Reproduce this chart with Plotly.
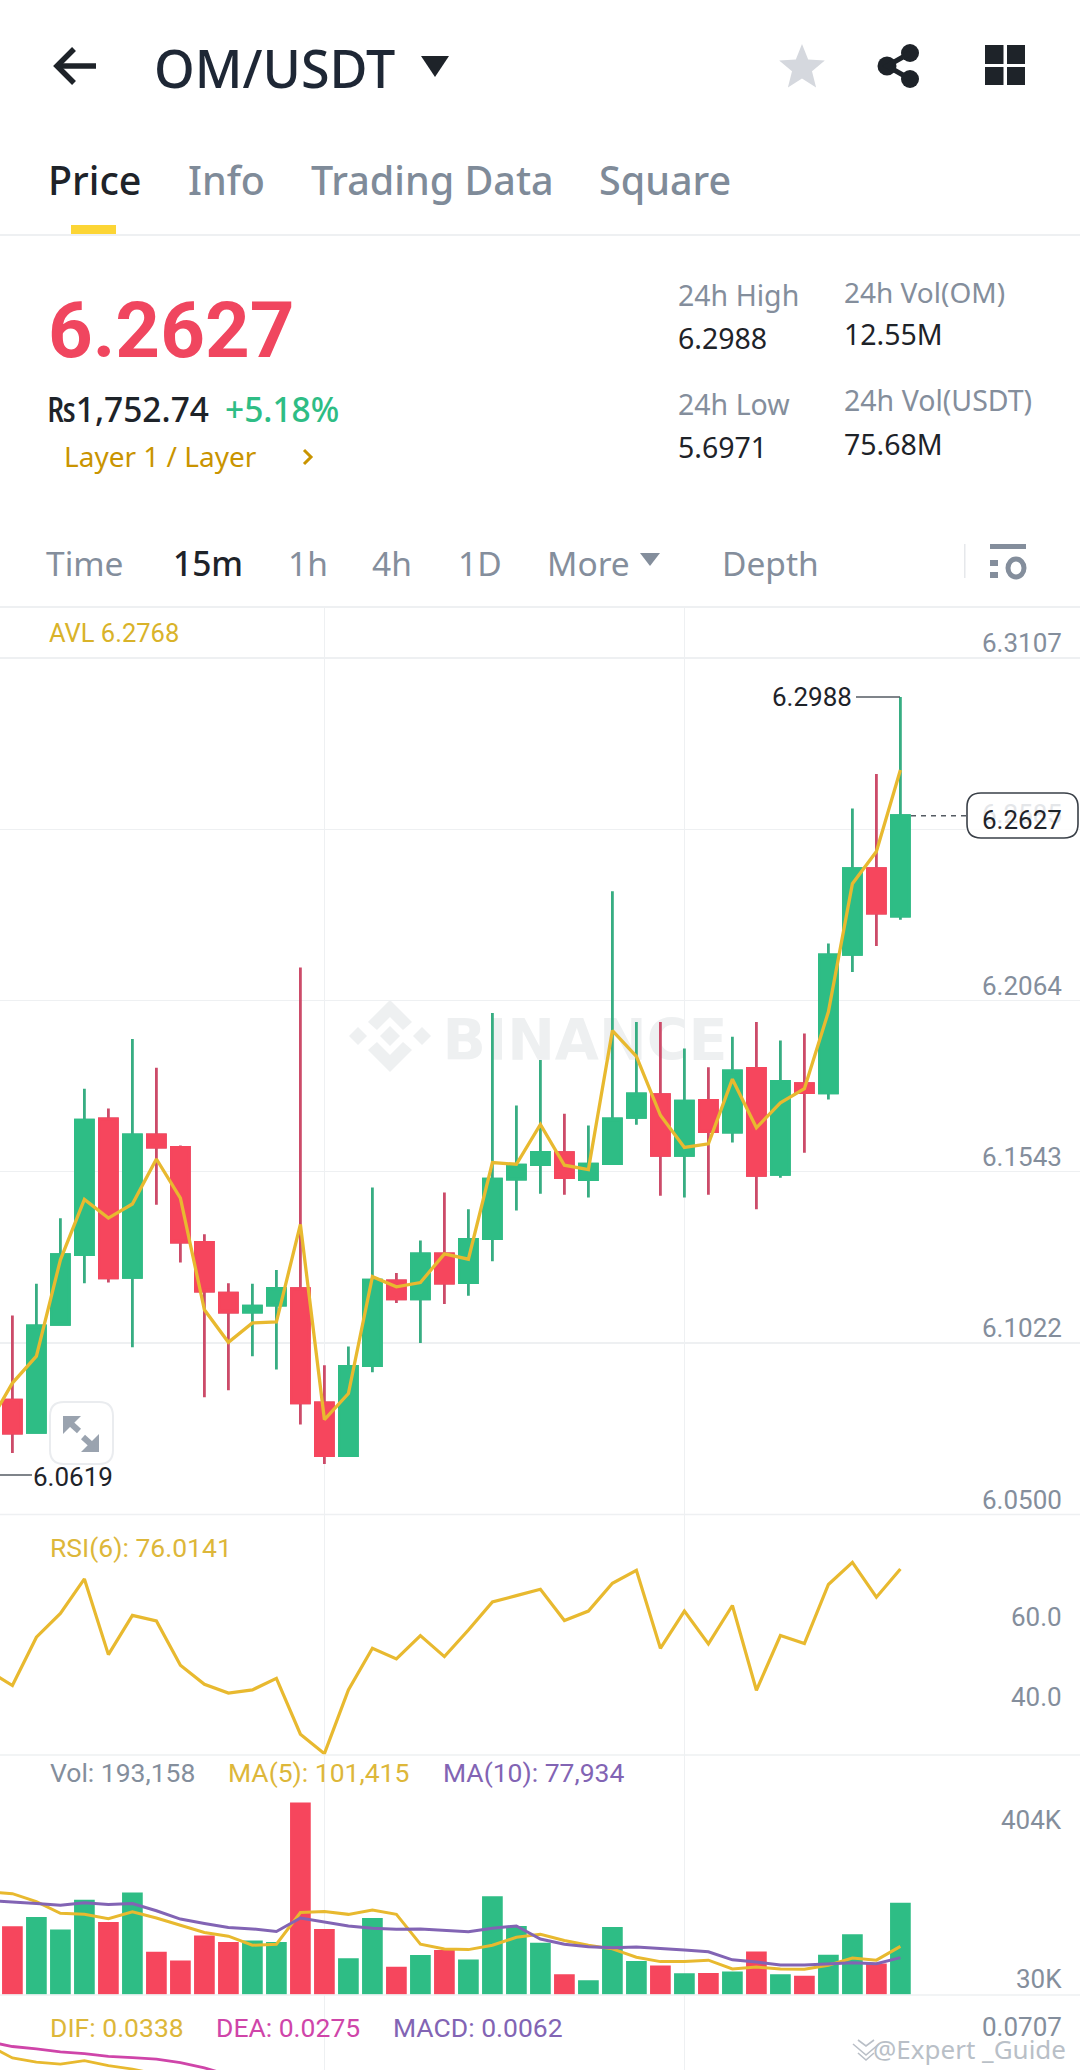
import math
import plotly.graph_objects as go

W, H = 1080, 2070

# ---------- data ----------
candle_idx = list(range(38))
opens = [6.0848,6.0750,6.1079,6.1291,6.1704,6.1222,6.1655,6.1617,6.1328,6.1174,6.1116,6.1137,6.1187,6.0840,6.0679,6.0953,6.1211,6.1156,6.1293,6.1206,
         6.1340,6.1521,6.1565,6.1601,6.1519,6.1568,6.1709,6.1778,6.1593,6.1760,6.1664,6.1858,6.1535,6.1811,6.1783,6.2205,6.2466,6.2321]
highs = [6.1106,6.1202,6.1402,6.1796,6.1736,6.1947,6.1860,6.1623,6.1353,6.1204,6.1202,6.1244,6.2165,6.0954,6.1011,6.1495,6.1235,6.1334,6.1480,6.1429,
         6.2026,6.1745,6.1883,6.1720,6.1684,6.2397,6.1999,6.1999,6.1918,6.1861,6.1954,6.1999,6.1943,6.1964,6.2238,6.2649,6.2754,6.2988]
lows = [6.0687,6.0750,6.1079,6.1204,6.1206,6.1009,6.1443,6.1267,6.0857,6.0878,6.0982,6.0941,6.0774,6.0654,6.0679,6.0933,6.1144,6.1022,6.1141,6.1166,
        6.1271,6.1425,6.1476,6.1473,6.1465,6.1568,6.1686,6.1470,6.1465,6.1473,6.1632,6.1429,6.1525,6.1601,6.1763,6.2151,6.2230,6.2310]
closes = [6.0748,6.1074,6.1291,6.1700,6.1220,6.1655,6.1618,6.1329,6.1180,6.1116,6.1134,6.1188,6.0840,6.0679,6.0951,6.1213,6.1156,6.1293,6.1204,6.1337,
          6.1521,6.1563,6.1602,6.1525,6.1566,6.1704,6.1780,6.1593,6.1758,6.1665,6.1850,6.1532,6.1818,6.1784,6.2203,6.2466,6.2330,6.2627]
line_idx = list(range(-1, 38))
price_ma = [6.0774,6.0900,6.0982,6.1275,6.1459,6.1402,6.1445,6.1582,6.1463,6.1123,6.1024,6.1083,6.1086,6.1383,6.0789,6.0868,6.1224,6.1193,6.1206,6.1293,
            6.1277,6.1571,6.1566,6.1687,6.1563,6.1550,6.1973,6.1894,6.1715,6.1617,6.1628,6.1825,6.1677,6.1753,6.1796,6.2030,6.2420,6.2518,6.2766]
rsi6 = [50.3,46.6,58.8,64.8,73.5,54.4,64.3,62.9,51.7,46.9,44.7,45.5,48.4,34.3,29.4,45.5,56.0,53.3,59.2,53.9,
        60.6,67.7,69.3,70.9,63.0,65.4,72.4,75.7,56.0,65.4,57.1,66.8,45.4,59.2,57.2,72.1,77.7,68.9,76.0]
volume = [143538,163389,136667,199274,152700,214544,90093,71769,124451,110708,113762,110708,403892,138194,76350,161099,58790,83222,93911,74060,
          206909,144302,109181,42756,30540,142011,71006,61080,45047,45810,48864,90857,42756,39702,83985,126741,65661,193158]
vol_ma5 = [216071,212253,195456,171024,168734,159572,174078,161099,145829,130559,122924,103836,106127,172551,174842,168734,177896,168734,106127,96201,
           94674,103836,120633,126741,113762,103836,96201,78641,69479,69479,72533,54209,58026,54209,53445,61844,77114,72533,101415]
vol_ma10 = [197747,195456,191639,187821,193166,189348,191639,176369,158808,149646,141248,138194,132849,161099,153464,144302,139721,137430,138194,135903,
            132086,139721,144302,116816,106127,100782,98492,100019,97728,93911,90093,73296,68715,62607,62607,65661,67188,64898,77934]
dea = [0.0578,0.0562,0.0554,0.0544,0.0538,0.0529,0.0525,0.0520,0.0508,0.0491,0.0467]
dif = [0.0566,0.0524,0.0510,0.0503,0.0515,0.0498,0.0487,0.0470]
price_ticks = [6.3107,6.2585,6.2064,6.1543,6.1022,6.0500]
rsi_ticks = [60.0,40.0]
grid_candles = [13,28]

GREEN, RED = "#2EBD85", "#F6465D"
GREEN_W, RED_W = "#37AD82", "#CC4B69"
YEL, PUR, MAG = "#E8B92F", "#8264B4", "#CF45A9"
GRAY, DARK, SEP = "#848E9C", "#1E2329", "#EEF0F2"
SANS, NUM = "Noto Sans", "Roboto"

def px(x): return x / W
def py(y): return 1 - y / H
def pts(*p): return " ".join(("M" if i == 0 else "L") + f"{px(a):.5f},{py(b):.5f}" for i, (a, b) in enumerate(p))

fig = go.Figure()
wb = [max(a, b) for a, b in zip(opens, closes)]
bb = [min(a, b) for a, b in zip(opens, closes)]
fig.add_trace(go.Candlestick(x=candle_idx, open=opens, high=highs, low=lows, close=closes, whiskerwidth=0,
    increasing=dict(line=dict(color=GREEN_W, width=2.8), fillcolor=GREEN),
    decreasing=dict(line=dict(color=RED_W, width=2.8), fillcolor=RED), yaxis="y", showlegend=False))
fig.add_trace(go.Candlestick(x=candle_idx, open=opens, high=wb, low=bb, close=closes, whiskerwidth=0,
    increasing=dict(line=dict(color=GREEN, width=2.8), fillcolor=GREEN),
    decreasing=dict(line=dict(color=RED, width=2.8), fillcolor=RED), yaxis="y", showlegend=False))
fig.add_trace(go.Scatter(x=line_idx, y=price_ma, mode="lines", line=dict(color=YEL, width=3.3), yaxis="y", showlegend=False))
fig.add_trace(go.Scatter(x=line_idx, y=rsi6, mode="lines", line=dict(color=YEL, width=3.2), yaxis="y2", showlegend=False))
fig.add_trace(go.Bar(x=candle_idx, y=volume, width=20.7/24, yaxis="y3", showlegend=False,
    marker=dict(color=[GREEN if c >= o else RED for o, c in zip(opens, closes)], line_width=0)))
fig.add_trace(go.Scatter(x=line_idx, y=vol_ma5, mode="lines", line=dict(color=YEL, width=3), yaxis="y3", showlegend=False))
fig.add_trace(go.Scatter(x=line_idx, y=vol_ma10, mode="lines", line=dict(color=PUR, width=3), yaxis="y3", showlegend=False))
fig.add_trace(go.Scatter(x=line_idx[:len(dea)], y=dea, mode="lines", line=dict(color=MAG, width=2.8), yaxis="y4", showlegend=False))
fig.add_trace(go.Scatter(x=line_idx[:len(dif)], y=dif, mode="lines", line=dict(color=YEL, width=2.8), yaxis="y4", showlegend=False))

ann, shp = [], []
def txt(s, x, y, size, color, anchor="left", weight=400, font=SANS):
    ann.append(dict(text=s, xref="paper", yref="paper", x=px(x), y=py(y), xanchor=anchor, yanchor="middle", showarrow=False,
                    borderpad=0, font=dict(family=font, size=size, color=color, weight=weight)))
def poly(*p, fill=DARK):
    shp.append(dict(type="path", xref="paper", yref="paper", path=pts(*p) + " Z", fillcolor=fill, line_width=0, layer="above"))
def stroke(*p, color=DARK, width=2, dash="solid"):
    shp.append(dict(type="path", xref="paper", yref="paper", path=pts(*p), line=dict(color=color, width=width, dash=dash), layer="above"))
def circ(cx, cy, r, fill=DARK):
    shp.append(dict(type="circle", xref="paper", yref="paper", x0=px(cx-r), x1=px(cx+r), y0=py(cy+r), y1=py(cy-r), fillcolor=fill, line_width=0, layer="above"))
def rect(x0, y0, x1, y1, fill):
    shp.append(dict(type="rect", xref="paper", yref="paper", x0=px(x0), x1=px(x1), y0=py(y1), y1=py(y0), fillcolor=fill, line_width=0, layer="above"))

# header
stroke((96,66),(58,66), width=5.5); stroke((74,49),(57,66),(74,83), width=5.5)
txt("OM/USDT", 153, 67, 52, "#1E2735", weight=500)
poly((421,56),(449,56),(435,77))
star = []
for i in range(10):
    r = 24 if i % 2 == 0 else 10.5
    a = -math.pi/2 + i*math.pi/5
    star.append((802 + r*math.cos(a), 68 + r*math.sin(a)))
poly(*star, fill="#D5D8DE")
circ(910,53,9); circ(887,66,9.5); circ(910,79,9)
stroke((910,53),(887,66),(910,79), width=5)
rect(985,45,1003.5,64,DARK); rect(1007,45,1025,64,DARK); rect(985,67,1003.5,85,DARK); rect(1007,67,1025,85,DARK)

# tabs
txt("Price", 47, 180, 39.5, DARK, weight=500)
txt("Info", 187, 180, 39.5, "#7F8B99", weight=500)
txt("Trading Data", 310, 180, 39.5, "#7F8B99", weight=500)
txt("Square", 598, 180, 39.5, "#7F8B99", weight=500)
rect(71,225,116,234,"#FCD535")
rect(0,234,1080,236,SEP)

# ticker block
txt("6.2627", 47, 330, 78, "#F0465F", weight=700, font=NUM)
txt("\u20a81,752.74", 46, 409, 33.5, DARK, weight=500)
txt("+5.18%", 224, 409, 33.5, GREEN, weight=500)
txt("Layer 1 / Layer", 63, 456, 28, "#C99400")
stroke((304,450),(311,457),(304,464), color="#C99400", width=3)
txt("24h High", 677, 295, 28.5, GRAY)
txt("6.2988", 677, 338, 28.5, DARK)
txt("24h Low", 677, 404, 28.5, GRAY)
txt("5.6971", 677, 447, 28.5, DARK)
txt("24h Vol(OM)", 843, 292, 28, GRAY)
txt("12.55M", 843, 334, 28.5, DARK)
txt("24h Vol(USDT)", 843, 400, 28.5, GRAY)
txt("75.68M", 843, 444, 28.5, DARK)

# toolbar
for s, x in [("Time",45),("1h",287),("4h",371),("1D",457),("More",546),("Depth",721)]:
    txt(s, x, 563, 33.5, GRAY)
txt("15m", 172, 563, 33.5, DARK, weight=500)
poly((640,553),(660,553),(650,566), fill=GRAY)
rect(964,544,965.5,578,"#E6E8EB")
rect(990,544,1026,549,GRAY); rect(990,560,998,566,GRAY); rect(990,572,998,578,GRAY)
shp.append(dict(type="circle", xref="paper", yref="paper", x0=px(1008), x1=px(1024), y0=py(577), y1=py(559), line=dict(color=GRAY, width=5), layer="above"))
rect(0,606,1080,608,SEP)

# watermark under the candles
cx, cy = 390, 1036
for dx, dy, s in [(-32,0,9),(32,0,9),(0,0,10)]:
    shp.append(dict(type="path", xref="paper", yref="paper", path=pts((cx+dx-s,cy+dy),(cx+dx,cy+dy-s),(cx+dx+s,cy+dy),(cx+dx,cy+dy+s))+" Z",
                    fillcolor="#EEF0F1", line_width=0, layer="below"))
shp.append(dict(type="path", xref="paper", yref="paper", path=pts((cx,cy-36),(cx+22,cy-14),(cx+13,cy-6),(cx,cy-19),(cx-13,cy-6),(cx-22,cy-14))+" Z",
                fillcolor="#EEF0F1", line_width=0, layer="below"))
shp.append(dict(type="path", xref="paper", yref="paper", path=pts((cx,cy+36),(cx+22,cy+14),(cx+13,cy+6),(cx,cy+19),(cx-13,cy+6),(cx-22,cy+14))+" Z",
                fillcolor="#EEF0F1", line_width=0, layer="below"))
shp.append(dict(type="rect", xref="paper", yref="paper", x0=px(440), x1=px(730), y0=py(1066), y1=py(1006), line_width=0, fillcolor="rgba(0,0,0,0)", layer="below",
                label=dict(text="BINANCE", textposition="middle center", font=dict(family="DejaVu Sans", size=57, color="#EEF0F1", weight=700))))

# price pane text
txt("AVL 6.2768", 48, 633, 25.5, "#D9B32A", font=NUM)
for t in price_ticks:
    ann.append(dict(text=f"{t:.4f}", xref="paper", yref="y", x=px(1063), y=t, yshift=15, xanchor="right", yanchor="middle", showarrow=False, borderpad=0,
                    font=dict(family=NUM, size=26, color="#E4E6E9" if t == price_ticks[1] else GRAY)))
shp.append(dict(type="line", xref="paper", yref="y", x0=px(856), x1=px(900), y0=highs[-1], y1=highs[-1], line=dict(color="#555B63", width=1.5), layer="above"))
ann.append(dict(text=f"{highs[-1]:.4f}", xref="paper", yref="y", x=px(853), y=highs[-1], xanchor="right", yanchor="middle", showarrow=False, borderpad=0,
                font=dict(family=NUM, size=26, color=DARK)))
shp.append(dict(type="line", xref="paper", yref="y", x0=px(911), x1=px(966), y0=closes[-1], y1=closes[-1], line=dict(color="#555B63", width=1.5, dash="5px,5px"), layer="above"))
# rounded pill
x0, x1, y0, y1, r = 967, 1078, 793, 838, 14
pill = (f"M{px(x0+r):.5f},{py(y0):.5f} L{px(x1-r):.5f},{py(y0):.5f} Q{px(x1):.5f},{py(y0):.5f} {px(x1):.5f},{py(y0+r):.5f} "
        f"L{px(x1):.5f},{py(y1-r):.5f} Q{px(x1):.5f},{py(y1):.5f} {px(x1-r):.5f},{py(y1):.5f} L{px(x0+r):.5f},{py(y1):.5f} "
        f"Q{px(x0):.5f},{py(y1):.5f} {px(x0):.5f},{py(y1-r):.5f} L{px(x0):.5f},{py(y0+r):.5f} Q{px(x0):.5f},{py(y0):.5f} {px(x0+r):.5f},{py(y0):.5f} Z")
shp.append(dict(type="path", xref="paper", yref="paper", path=pill, fillcolor="rgba(255,255,255,0.85)", line=dict(color="#3A4048", width=1.6), layer="above"))
txt("6.2627", 1063, 820, 26, DARK, "right", font=NUM)
stroke((0,1475),(32,1475), color="#555B63", width=1.5)
txt("6.0619", 114, 1477, 26, DARK, "right", font=NUM)
# expand button
x0, x1, y0, y1, r = 50, 113, 1402, 1464, 14
btn = (f"M{px(x0+r):.5f},{py(y0):.5f} L{px(x1-r):.5f},{py(y0):.5f} Q{px(x1):.5f},{py(y0):.5f} {px(x1):.5f},{py(y0+r):.5f} "
       f"L{px(x1):.5f},{py(y1-r):.5f} Q{px(x1):.5f},{py(y1):.5f} {px(x1-r):.5f},{py(y1):.5f} L{px(x0+r):.5f},{py(y1):.5f} "
       f"Q{px(x0):.5f},{py(y1):.5f} {px(x0):.5f},{py(y1-r):.5f} L{px(x0):.5f},{py(y0+r):.5f} Q{px(x0):.5f},{py(y0):.5f} {px(x0+r):.5f},{py(y0):.5f} Z")
shp.append(dict(type="path", xref="paper", yref="paper", path=btn, fillcolor="white", line=dict(color="#EAECEF", width=2), layer="above"))
poly((63,1416),(81,1416),(63,1434), fill="#9AA3AF"); poly((99,1452),(81,1452),(99,1434), fill="#9AA3AF")
stroke((68,1421),(79,1431), color="#9AA3AF", width=6)
stroke((94,1447),(83,1437), color="#9AA3AF", width=6)

# lower panes text
txt("RSI(6): 76.0141", 49, 1547, 26.5, "#DDB73A", font=NUM)
for t in rsi_ticks:
    ann.append(dict(text=f"{t:.1f}", xref="paper", yref="y2", x=px(1063), y=t, yshift=15, xanchor="right", yanchor="middle", showarrow=False, borderpad=0,
                    font=dict(family=NUM, size=26, color=GRAY)))
txt("Vol: 193,158", 49, 1772, 26.5, GRAY, font=NUM)
txt("MA(5): 101,415", 227, 1772, 26.5, "#DDB73A", font=NUM)
txt("MA(10): 77,934", 442, 1772, 26.5, PUR, font=NUM)
txt("404K", 1063, 1820, 26, GRAY, "right", font=NUM)
txt("30K", 1063, 1979, 26, GRAY, "right", font=NUM)
txt("DIF: 0.0338", 49, 2027, 26.5, "#DDB73A", font=NUM)
txt("DEA: 0.0275", 215, 2027, 26.5, MAG, font=NUM)
txt("MACD: 0.0062", 392, 2027, 26.5, PUR, font=NUM)
txt("0.0707", 1063, 2027, 26, GRAY, "right", font=NUM)
for py_ in (1514.5, 1755, 1995):
    rect(0, py_-0.7, 1080, py_+0.7, SEP)
# author mark
txt("@Expert _Guide", 1067, 2049, 26, "#B9BFC7", "right", font=SANS)
stroke((853,2044),(866,2055),(879,2044), color="#B9BFC7", width=1.6)
stroke((858,2040),(866,2046),(874,2040), color="#B9BFC7", width=1.6)
stroke((858,2053),(866,2060),(874,2053), color="#B9BFC7", width=1.6)

def dom(a, b): return [1 - b/H, 1 - a/H]
hid = dict(showticklabels=False, zeroline=False, showline=False, ticks="", anchor="x", fixedrange=True)
fig.update_layout(
    width=W, height=H, margin=dict(l=0, r=0, t=0, b=0), paper_bgcolor="white", plot_bgcolor="white",
    showlegend=False, hovermode=False, boxgap=0.254, boxgroupgap=0, barmode="overlay",
    xaxis=dict(range=[-12.4/24, (W-12.4)/24], domain=[0,1], tickvals=grid_candles, showgrid=True, gridcolor=SEP, gridwidth=1.2,
               showticklabels=False, zeroline=False, showline=False, ticks="", rangeslider=dict(visible=False), anchor="y4", fixedrange=True),
    yaxis=dict(domain=dom(607,1514.5), range=[6.05, 6.3262], tickvals=price_ticks, showgrid=True, gridcolor=SEP, gridwidth=1.2, **hid),
    yaxis2=dict(domain=dom(1514.5,1755), range=[29.06, 89.77], showgrid=False, **hid),
    yaxis3=dict(domain=dom(1755,1994.7), range=[0, 503400], showgrid=False, **hid),
    yaxis4=dict(domain=dom(1995,2070), range=[0.04837, 0.07337], showgrid=False, **hid),
    shapes=shp, annotations=ann,
)
fig.write_html("out.html", config=dict(displayModeBar=False, staticPlot=True),
               post_script="document.body.style.margin='0';document.body.style.overflow='hidden';")
